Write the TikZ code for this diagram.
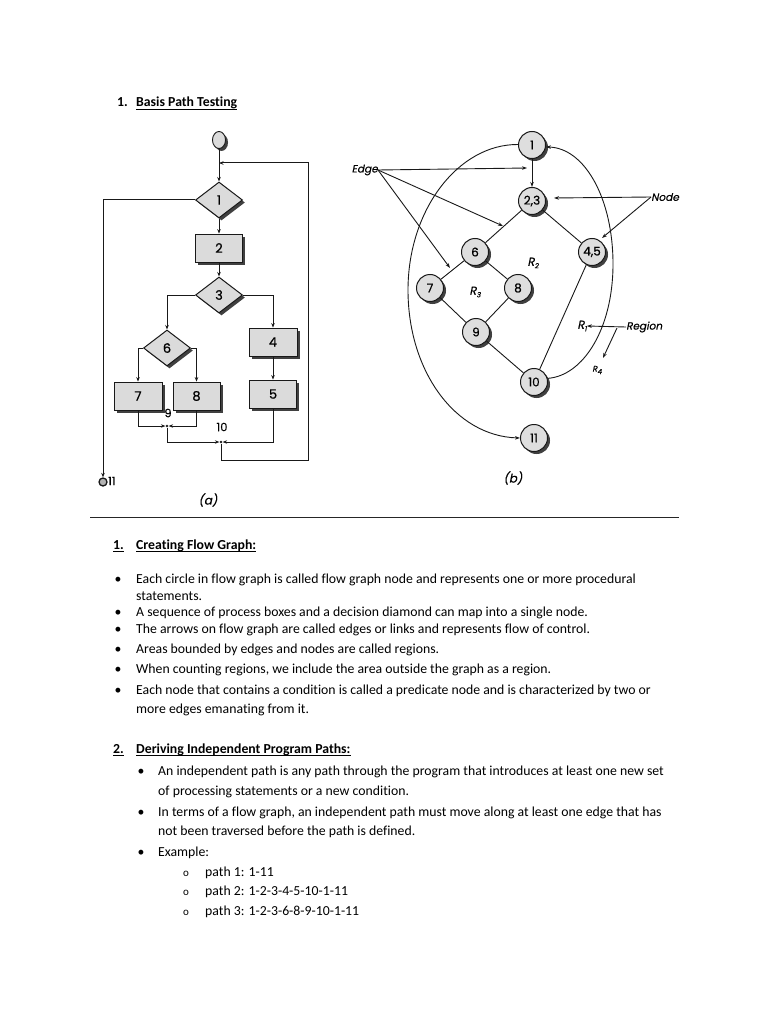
\documentclass[tikz,border=0pt]{standalone}
\usepackage{fontspec}
\setmainfont{Carlito}[Ligatures=NoCommon]
\newfontfamily\figfont{Poppins}[FakeBold=0.5]
\newfontfamily\figit{Poppins}[FakeSlant=0.2,FakeBold=0.4]
\usetikzlibrary{arrows.meta,shapes.geometric,shadows}
\newcommand\regR[1]{{\figit R\raisebox{-2.5pt}{\fontsize{7}{7}\selectfont #1}}}
\begin{document}
\begin{tikzpicture}[x=1pt,y=-1pt,
  txt/.style={anchor=base west,inner sep=0pt,font=\fontsize{13.77}{16}\selectfont},
  btxt/.style={anchor=base west,inner sep=0pt,font=\fontsize{13.77}{16}\selectfont\bfseries},
  bul/.style={anchor=base,inner sep=0pt,font=\fontsize{13.77}{16}\selectfont},
  sbul/.style={anchor=base,inner sep=0pt,font=\fontsize{11}{12}\selectfont},
  ul/.style={line width=0.9pt},
  shd/.style={drop shadow={shadow xshift=2.5pt,shadow yshift=-2.5pt,fill=black!75,opacity=1}},
  fbox/.style={rectangle,draw=black!90,line width=0.8pt,fill=black!14,minimum width=47pt,minimum height=28pt,inner sep=0pt,shd,font=\figfont\fontsize{13}{13}\selectfont},
  fdia/.style={diamond,draw=black!90,line width=1pt,fill=black!14,minimum width=47pt,minimum height=36pt,inner sep=0pt,shd,font=\figfont\fontsize{13}{13}\selectfont},
  fl/.style={line width=1pt,draw=black!90},
  fa/.style={fl,-{Stealth[length=4.5pt,width=3.5pt]}},
  gn/.style={circle,draw=black!90,line width=1pt,fill=black!13,minimum size=27pt,inner sep=0pt,shd,font=\figfont\fontsize{12}{12}\selectfont},
  gl/.style={line width=0.9pt,draw=black!90},
  ga/.style={gl,-{Stealth[length=5pt,width=3.5pt]}},
  flab/.style={inner sep=0pt,font=\figfont\fontsize{11.5}{11.5}\selectfont},
  ilab/.style={inner sep=0pt,font=\figit\fontsize{10.5}{10.5}\selectfont}
]
\useasboundingbox (0,0) rectangle (768,1024);
\fill[white] (0,0) rectangle (768,1024);

% ---------- title ----------
\node[btxt] (t1n) at (117,107) {1.};
\node[btxt] (t1) at (136,107) {Basis Path Testing};
\draw[ul] ([yshift=-2pt]t1.base west) -- ([yshift=-2pt]t1.base east);

% ---------- flowchart (a) ----------
\node[ellipse,draw=black!90,line width=0.9pt,fill=black!14,minimum width=13pt,minimum height=17pt,inner sep=0pt,shd] (st) at (219,140) {};
\node[fdia] (d1) at (219,200) {1};
\node[fbox] (b2) at (219,248) {2};
\node[fdia] (d3) at (219,295) {3};
\node[fdia] (d6) at (167,348) {6};
\node[fbox,minimum width=48pt] (b7) at (138,396) {7};
\node[fbox] (b8) at (196.5,396) {8};
\node[fbox,minimum width=48pt] (b4) at (273,342) {4};
\node[fbox] (b5) at (273,394) {5};
\node[circle,fill=black!90,inner sep=0pt,minimum size=2.8pt] (j9) at (167,426) {};
\node[circle,fill=black!90,inner sep=0pt,minimum size=2.8pt] (j10) at (221,442) {};
\node[circle,draw=black!90,line width=1.3pt,fill=black!30,inner sep=0pt,minimum size=8pt] (n11a) at (103,482) {};
\node[flab,anchor=west] (l11) at (108,481) {11};
\node[flab] (l9) at (168,413) {9};
\node[flab] (l10) at (222,427) {10};
\node[ilab,font=\figit\fontsize{12}{12}\selectfont] (capa) at (208,500) {(a)};

\coordinate (cin) at (219,163);
\coordinate (lb) at (308,460);
\coordinate (lt) at (308,163);
\draw[fl] (st) -- (cin);
\draw[fa] (cin) -- (d1);
\draw[fa] (j10) |- (lb) -- (lt) -- (cin);
\draw[fa] (d1) -- (b2);
\draw[fa] (d1.west) -| (n11a);
\draw[fa] (b2) -- (d3);
\draw[fa] (d3.west) -| (d6.north);
\draw[fa] (d3.east) -| (b4.north);
\draw[fa] (d6.west) -| (b7.north);
\draw[fa] (d6.east) -| (b8.north);
\draw[fa] (b4) -- (b5);
\draw[fa] (b7.south) |- (j9);
\draw[fa] (b8.south) |- (j9);
\draw[fa] (j9) |- (j10);
\draw[fa] (b5.south) |- (j10);

% ---------- flow graph (b) ----------
\node[gn] (g1) at (532,145) {1};
\node[gn] (g23) at (532,201) {2,3};
\node[gn] (g6) at (475,252) {6};
\node[gn] (g45) at (592,252) {4,5};
\node[gn] (g7) at (430,288) {7};
\node[gn] (g8) at (518,288) {8};
\node[gn] (g9) at (476,332) {9};
\node[gn] (g10) at (534,382) {10};
\node[gn] (g11) at (534,438) {11};

\draw[ga] (g1) -- (g23);
\draw[gl] (g23) -- (g6);
\draw[gl] (g23) -- (g45);
\draw[gl] (g6) -- (g7);
\draw[gl] (g6) -- (g8);
\draw[gl] (g7) -- (g9);
\draw[gl] (g8) -- (g9);
\draw[gl] (g9) -- (g10);
\draw[gl] (g45) -- (g10);
\draw[ga] (g10.15) .. controls (583,376) and (613,329) .. (613,264) .. controls (613,199) and (585,148) .. (g1.-8);
\draw[ga] (g1.178) .. controls (459,144) and (408,209) .. (408,290) .. controls (408,371) and (455,436) .. (g11.west);

\node[flab] (r2) at (533,263) {\regR{2}};
\node[flab] (r3) at (475,292) {\regR{3}};
\node[flab] (r1) at (582,326) {\regR{1}};
\node[flab,font=\figit\fontsize{8}{8}\selectfont] (r4) at (597,370) {\regR{4}};

\node[ilab,anchor=east] (elab) at (378,170) {Edge};
\coordinate (ea1) at (527,168);
\coordinate (ea2) at (503,226);
\coordinate (ea3) at (450,268);
\draw[ga] (elab.east) -- (ea1);
\draw[ga] (elab.east) -- (ea2);
\draw[ga] (elab.east) -- (ea3);

\node[ilab,anchor=west] (nlab) at (651,197) {Node};
\coordinate (na1) at (554,198);
\coordinate (na2) at (602,238);
\draw[ga] (nlab.west) -- (na1);
\draw[ga] (nlab.west) -- (na2);

\node[ilab,anchor=west] (rlab) at (626,327) {Region};
\coordinate (rj) at (617,328);
\coordinate (ra4) at (603,358);
\draw[ga] (rlab.west) -- (r1.east);
\draw[ga] (rj) -- (ra4);

\node[ilab,font=\figit\fontsize{12}{12}\selectfont] (capb) at (513,478) {(b)};

% ---------- rule ----------
\coordinate (rl) at (90,517);
\coordinate (rr) at (679,517);
\draw[line width=1pt,black!85] (rl) -- (rr);

% ---------- section 1 ----------
\node[btxt] (h1n) at (113,549) {1.};
\node[btxt] (h1) at (136,549) {Creating Flow Graph:};
\draw[ul] ([yshift=-2pt]h1n.base west) -- ([yshift=-2pt]h1n.base east);
\draw[ul] ([yshift=-2pt]h1.base west) -- ([yshift=-2pt]h1.base east);

\node[bul] (bu1) at (118,583) {•};
\node[txt] (s1a) at (136,583) {Each circle in flow graph is called flow graph node and represents one or more procedural};
\node[txt] (s1b) at (136,600) {statements.};
\node[bul] (bu2) at (118,616) {•};
\node[txt] (s2) at (136,616) {A sequence of process boxes and a decision diamond can map into a single node.};
\node[bul] (bu3) at (118,633) {•};
\node[txt] (s3) at (136,633) {The arrows on flow graph are called edges or links and represents flow of control.};
\node[bul] (bu4) at (118,653) {•};
\node[txt] (s4) at (136,653) {Areas bounded by edges and nodes are called regions.};
\node[bul] (bu5) at (118,673) {•};
\node[txt] (s5) at (136,673) {When counting regions, we include the area outside the graph as a region.};
\node[bul] (bu6) at (118,694) {•};
\node[txt] (s6a) at (136,694) {Each node that contains a condition is called a predicate node and is characterized by two or};
\node[txt] (s6b) at (136,713) {more edges emanating from it.};

% ---------- section 2 ----------
\node[btxt] (h2n) at (113,753) {2.};
\node[btxt] (h2) at (136,753) {Deriving Independent Program Paths:};
\draw[ul] ([yshift=-2pt]h2n.base west) -- ([yshift=-2pt]h2n.base east);
\draw[ul] ([yshift=-2pt]h2.base west) -- ([yshift=-2pt]h2.base east);

\node[bul] (cu1) at (141,775) {•};
\node[txt] (p1a) at (158,775) {An independent path is any path through the program that introduces at least one new set};
\node[txt] (p1b) at (158,795) {of processing statements or a new condition.};
\node[bul] (cu2) at (141,816) {•};
\node[txt] (p2a) at (158,816) {In terms of a flow graph, an independent path must move along at least one edge that has};
\node[txt] (p2b) at (158,835) {not been traversed before the path is defined.};
\node[bul] (cu3) at (141,856) {•};
\node[txt] (p3) at (158,856) {Example:};
\node[sbul] (du1) at (186,876) {o};
\node[txt] (q1) at (205,876) {path 1: 1-11};
\node[sbul] (du2) at (186,895) {o};
\node[txt] (q2) at (205,895) {path 2: 1-2-3-4-5-10-1-11};
\node[sbul] (du3) at (186,915) {o};
\node[txt] (q3) at (205,915) {path 3: 1-2-3-6-8-9-10-1-11};
\end{tikzpicture}
\end{document}
